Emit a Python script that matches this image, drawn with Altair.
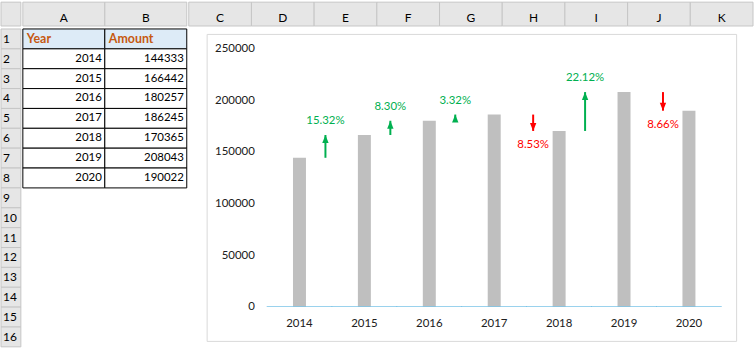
import altair as alt
import pandas as pd

# ---------------- data ----------------
years = [2014, 2015, 2016, 2017, 2018, 2019, 2020]
amounts = [144333, 166442, 180257, 186245, 170365, 208043, 190022]
change_labels = ["15.32%", "8.30%", "3.32%", "8.53%", "22.12%", "8.66%"]
y_ticks = [0, 50000, 100000, 150000, 200000, 250000]
table_header = ["Year", "Amount"]
table_cols = ["A", "B"]
sheet_cols_right = ["C", "D", "E", "F", "G", "H", "I", "J", "K"]
row_numbers = [str(i) for i in range(1, 17)]

FONT = "Lato"
GREEN = "#00B050"
RED = "#FF0000"
HDR_GRAY = "#E6E6E6"
HDR_LINE = "#C6C6C6"

year_str = [str(y) for y in years]
bars_df = pd.DataFrame({"year": year_str, "amount": amounts})
arrows_df = pd.DataFrame({
    "from": year_str[:-1],
    "to": year_str[1:],
    "prev": amounts[:-1],
    "curr": amounts[1:],
    "label": change_labels,
})
up_df = arrows_df[arrows_df["curr"] > arrows_df["prev"]]
down_df = arrows_df[arrows_df["curr"] < arrows_df["prev"]]

# ---------------- chart panel ----------------
x_scale = alt.Scale(domain=year_str, paddingInner=0, paddingOuter=0.5786, align=0.804)
y_scale = alt.Scale(domain=[-33237, 264451], nice=False, zero=False)

X_AXIS = alt.Axis(title=None, domain=False, ticks=False, tickSize=0, labelAngle=0,
                  labelPadding=-17.3, labelBaseline="middle", labelFont=FONT,
                  labelFontSize=11.5, labelColor="#202020", zindex=1)
Y_AXIS = alt.Axis(title=None, values=y_ticks, format="d", domain=False, ticks=False,
                  tickSize=0, grid=False, labelPadding=-48, labelAlign="right",
                  labelFont=FONT, labelFontSize=11.5, labelColor="#202020", zindex=1)

bars = alt.Chart(bars_df).mark_bar(color="#BFBFBF", width=alt.RelativeBandSize(0.2)).encode(
    x=alt.X("year:N", scale=x_scale, sort=year_str, axis=X_AXIS),
    y=alt.Y("amount:Q", scale=y_scale, axis=Y_AXIS),
    y2=alt.datum(0),
)

baseline = alt.Chart(bars_df).mark_tick(color="#3FA9DD", thickness=1, orient="horizontal").encode(
    x=alt.X("year:N", axis=X_AXIS),
    y=alt.datum(0),
    size=alt.value(66),
)


def arrow_layers(df, color, xfield, band_pos, shape, head_off, label_dy):
    xenc = alt.X(f"{xfield}:N", bandPosition=band_pos, axis=X_AXIS)
    stem = alt.Chart(df).mark_rule(color=color, strokeWidth=2).encode(
        x=xenc, y=alt.Y("prev:Q", axis=Y_AXIS), y2="curr:Q")
    head = alt.Chart(df).mark_point(shape=shape, filled=True, size=64, color=color,
                                    opacity=1, yOffset=head_off).encode(
        x=xenc, y=alt.Y("curr:Q", axis=Y_AXIS))
    lbl = alt.Chart(df).mark_text(color=color, font=FONT, fontSize=11.5, dy=label_dy,
                                  baseline="middle", align="center").encode(
        x=xenc, y=alt.Y("curr:Q", axis=Y_AXIS), text="label:N")
    return [stem, head, lbl]


up_layers = arrow_layers(up_df, GREEN, "from", 0.9, "M0,-1L0.8,1L-0.8,1Z", 4, -14)
down_layers = arrow_layers(down_df, RED, "to", 0.1, "M0,1L0.8,-1L-0.8,-1Z", -4, 14.5)

chart = alt.layer(bars, baseline, *up_layers, *down_layers).properties(
    width=533, height=309,
    view=alt.ViewBackground(stroke="#D9D9D9", fill="white"),
)

# invisible 1px spacer that pushes the chart frame a few pixels below the table top
spacer = alt.Chart(pd.DataFrame({"v": [0]})).mark_rect(opacity=0).encode(
    x=alt.value(0), x2=alt.value(1), y=alt.value(0), y2=alt.value(1)
).properties(width=533, height=1, view=alt.ViewBackground(stroke="transparent"))

chart_col = alt.vconcat(spacer, chart, spacing=2)

# ---------------- spreadsheet table ----------------
cells = []
for ci, col in enumerate(table_cols):
    cells.append({"col": col, "row": "1", "text": table_header[ci], "hdr": True})
for i, (yv, av) in enumerate(zip(years, amounts)):
    r = str(i + 2)
    cells.append({"col": "A", "row": r, "text": str(yv), "hdr": False})
    cells.append({"col": "B", "row": r, "text": str(av), "hdr": False})
cells_df = pd.DataFrame(cells)

tx = alt.Scale(domain=table_cols, paddingInner=0, paddingOuter=0)
ty = alt.Scale(domain=row_numbers, paddingInner=0, paddingOuter=0)

cell_rects = alt.Chart(cells_df).mark_rect(stroke="black", strokeWidth=1).encode(
    x=alt.X("col:N", scale=tx, axis=None),
    y=alt.Y("row:N", scale=ty, axis=None),
    fill=alt.condition("datum.hdr", alt.value("#DDEBF7"), alt.value("white")),
)
hdr_text = alt.Chart(cells_df).transform_filter("datum.hdr").mark_text(
    align="left", dx=4, baseline="middle", font=FONT, fontSize=12.5, fontWeight="bold",
    color="#C65911").encode(
    x=alt.X("col:N", bandPosition=0), y="row:N", text="text:N")
val_text = alt.Chart(cells_df).transform_filter("!datum.hdr").mark_text(
    align="right", dx=-3, baseline="middle", font=FONT, fontSize=11.5, color="black").encode(
    x=alt.X("col:N", bandPosition=1), y="row:N", text="text:N")

table = alt.layer(cell_rects, hdr_text, val_text).properties(
    width=165, height=320, view=alt.ViewBackground(stroke="transparent", fill="white"))

rn_df = pd.DataFrame({"row": row_numbers, "c": ["#"] * len(row_numbers)})
rn_x = alt.Scale(domain=["#"], paddingInner=0, paddingOuter=0)
rn_rect = alt.Chart(rn_df).mark_rect(fill=HDR_GRAY, stroke=HDR_LINE, strokeWidth=1).encode(
    x=alt.X("c:N", scale=rn_x, axis=None), y=alt.Y("row:N", scale=ty, axis=None))
rn_text = alt.Chart(rn_df).mark_text(align="left", dx=2, baseline="middle", font=FONT,
                                     fontSize=12, color="black").encode(
    x=alt.X("c:N", bandPosition=0), y="row:N", text="row:N")
rownum = alt.layer(rn_rect, rn_text).properties(
    width=20, height=320, view=alt.ViewBackground(stroke="transparent"))

# ---------------- column header strip ----------------
HDR_H = 24
corner_df = pd.DataFrame({"c": ["#"]})
corner = alt.Chart(corner_df).mark_rect(fill=HDR_GRAY, stroke=HDR_LINE, strokeWidth=1).encode(
    x=alt.X("c:N", scale=rn_x, axis=None)).properties(
    width=20, height=HDR_H, view=alt.ViewBackground(stroke="transparent"))


def header_strip(cols, width):
    df = pd.DataFrame({"col": cols})
    sc = alt.Scale(domain=cols, paddingInner=0, paddingOuter=0)
    r = alt.Chart(df).mark_rect(fill=HDR_GRAY, stroke=HDR_LINE, strokeWidth=1).encode(
        x=alt.X("col:N", scale=sc, axis=None))
    t = alt.Chart(df).mark_text(font=FONT, fontSize=12, color="black", dy=4,
                                baseline="middle").encode(
        x=alt.X("col:N", scale=sc, axis=None), text="col:N")
    return alt.layer(r, t).properties(width=width, height=HDR_H,
                                      view=alt.ViewBackground(stroke="transparent"))


header = alt.hconcat(corner, header_strip(table_cols, 165),
                     header_strip(sheet_cols_right, 568), spacing=0)

body = alt.hconcat(alt.hconcat(rownum, table, spacing=0), chart_col, spacing=18)

full = alt.vconcat(header, body, spacing=1).properties(
    padding=0).configure(background="white")

full.save("out.html", embed_options={"renderer": "svg", "actions": False})
